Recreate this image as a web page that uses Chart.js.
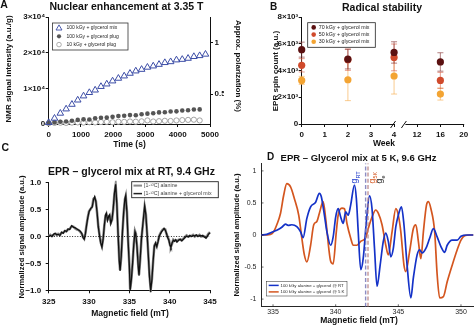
<!DOCTYPE html>
<html><head><meta charset="utf-8">
<script src="https://cdn.jsdelivr.net/npm/chart.js@4.4.1/dist/chart.umd.min.js"></script>
<style>
html,body{margin:0;padding:0;background:#fff;width:474px;height:329px;overflow:hidden;}
canvas{position:absolute;left:0;top:0;}
</style></head><body>
<canvas id="cA" width="474" height="329"></canvas>
<canvas id="cB" width="474" height="329"></canvas>
<canvas id="cC" width="474" height="329"></canvas>
<canvas id="cD" width="474" height="329"></canvas>
<script>
const FONT = "'Liberation Sans', Arial, Helvetica, sans-serif";

// ---------------- Panel A data ----------------
const timeMix = [0,180,360,540,720,900,1080,1260,1440,1620,1800,1980,2160,2340,2520,2700,2880,3060,3240,3420,3600,3780,3960,4140,4320,4500,4680,4860];
const signalMix100 = [400,1600,3000,4200,5500,6700,7850,8800,9500,10500,11200,12050,12800,13450,14200,14850,15300,15900,16250,16700,17200,17450,17950,18100,18400,18900,19150,19550];
const timePlug = [0,180,360,540,720,900,1080,1260,1440,1620,1800,1980,2160,2340,2520,2700,2880,3060,3240,3420,3600,3780,3960,4140,4320,4500,4680];
const signalPlug100 = [250,420,650,700,900,1150,1300,1280,1600,1750,1800,2000,2250,2300,2500,2450,2750,2900,3000,3250,3300,3500,3550,3800,3850,4050,4100];
const signalPlug10 = [200,300,350,300,400,450,400,500,450,550,600,500,650,600,700,650,750,1000,700,800,900,850,1000,1100,1150,1200,1000];
const seriesNamesA = ['100 kGy + glycerol mix','100 kGy + glycerol plug','10 kGy + glycerol plug'];
const timeTicks = [0,1000,2000,3000,4000,5000];
const signalTicks = [0,10000,20000,30000];
const signalTickLabels = ['0','1×10⁴','2×10⁴','3×10⁴'];
const polTicks = [0.5,1];
const polTickLabels = ['0.5','1'];

// ---------------- Panel B data ----------------
const weeks = [0,2,4,16];
const spin70 = [5560,4850,5350,4640];
const err70 = [560,730,800,690];
const spin50 = [4390,4810,4980,3260];
const err50 = [500,800,1000,600];
const spin30 = [3260,3310,3590,2240];
const err30 = [300,1560,1350,450];
const seriesNamesB = ['70 kGy + glycerol mix','50 kGy + glycerol mix','30 kGy + glycerol mix'];
const weekTicks = [0,1,2,3,4,12,16,20];
const spinTicks = [0,2000,4000,6000,8000];
const spinTickLabels = ['0','2×10³','4×10³','6×10³','8×10³'];

// ---------------- Panel C data ----------------
const fieldC = [325.0,325.2,325.4,325.6,325.8,326.0,326.2,326.4,326.6,326.8,
327.0,327.2,327.4,327.6,327.85,328.1,328.3,328.5,328.7,328.9,
329.1,329.25,329.4,329.55,329.7,329.85,330.0,330.2,330.4,330.55,
330.7,330.85,331.0,331.15,331.3,331.45,331.6,331.75,331.9,332.05,
332.15,332.3,332.45,332.55,332.7,332.85,333.0,333.15,333.3,333.45,
333.6,333.75,333.85,334.0,334.15,334.3,334.45,334.55,334.7,334.85,
335.0,335.1,335.25,335.4,335.55,335.7,335.8,335.95,336.1,336.2,
336.35,336.5,336.7,336.9,337.05,337.2,337.35,337.5,337.65,337.8,
337.95,338.1,338.25,338.4,338.55,338.7,338.85,339.0,339.15,339.3,
339.45,339.6,339.75,339.9,340.05,340.15,340.3,340.45,340.6,340.75,
340.9,341.1,341.3,341.5,341.7,341.9,342.1,342.3,342.5,342.7,
342.9,343.1,343.3,343.5,343.7,343.9,344.1,344.3,344.5,344.65,
344.8,345.0];
const ampGlycerolMix = [0.00,0.02,0.00,0.04,0.06,0.03,0.04,0.02,0.08,0.06,
0.11,0.09,0.14,0.13,0.20,0.17,0.16,0.14,0.12,0.10,
0.06,-0.02,-0.05,0.05,0.21,0.35,0.46,0.52,0.55,0.68,
0.74,0.65,0.45,0.18,0.02,-0.12,-0.20,-0.05,0.21,0.40,
0.43,0.30,0.38,0.40,0.24,0.32,0.52,0.80,0.97,0.60,
0.05,-0.45,-0.64,-0.35,0.10,0.46,0.70,0.76,0.45,-0.10,
-0.55,-1.00,-0.80,-0.50,-0.15,0.09,0.05,-0.20,-0.55,-0.73,
-0.40,-0.04,0.27,0.57,0.40,0.05,-0.35,-0.75,-1.00,-0.80,
-0.45,-0.18,-0.12,-0.19,-0.10,0.00,0.05,0.09,0.12,0.15,
0.12,0.06,-0.02,-0.07,-0.17,-0.20,-0.12,-0.07,-0.09,-0.06,
-0.10,-0.07,-0.05,-0.08,-0.05,-0.02,0.01,-0.01,0.02,0.00,
0.02,0.01,0.03,0.00,0.02,0.01,0.02,-0.01,-0.03,0.00,
0.04,0.07];
const ampAlanine = [0.01,0.03,0.01,0.03,0.05,0.04,0.05,0.03,0.07,0.07,
0.10,0.10,0.13,0.14,0.19,0.18,0.15,0.13,0.12,0.09,
0.05,-0.01,-0.04,0.06,0.22,0.36,0.47,0.51,0.56,0.70,
0.72,0.66,0.44,0.19,0.03,-0.11,-0.18,-0.04,0.20,0.39,
0.42,0.32,0.37,0.39,0.26,0.31,0.50,0.79,0.95,0.62,
0.07,-0.43,-0.62,-0.36,0.09,0.44,0.69,0.75,0.47,-0.08,
-0.53,-0.98,-0.79,-0.51,-0.14,0.10,0.06,-0.18,-0.53,-0.71,
-0.41,-0.05,0.26,0.55,0.41,0.06,-0.33,-0.73,-0.98,-0.79,
-0.46,-0.17,-0.13,-0.18,-0.09,0.01,0.06,0.10,0.13,0.14,
0.13,0.05,-0.01,-0.06,-0.16,-0.19,-0.13,-0.06,-0.08,-0.07,
-0.09,-0.06,-0.06,-0.07,-0.04,-0.01,0.02,0.00,0.01,0.01,
0.03,0.00,0.02,0.01,0.03,0.00,0.01,0.00,-0.02,0.01,
0.05,0.08];
const seriesNamesC = ['[1-¹³C] alanine','[1-¹³C] alanine + glycerol mix'];
const fieldTicksC = [325,330,335,340,345];
const ampTicksC = [-1,-0.5,0,0.5,1];
const ampTickLabelsC = ['−1.0','−0.5','0.0','0.5','1.0'];

// ---------------- Panel D data ----------------
const fieldRT = [334.04,334.5,335.0,335.45,335.7,336.0,336.2,336.5,336.9,337.2,337.4,337.7,338.0,338.4,338.7,338.85,339.1,339.3,339.6,339.8,340.0,340.2,340.4,340.6,340.8,341.0,341.2,341.5,341.65,341.8,342.0,342.2,342.45,342.7,342.9,343.1,343.3,343.55,343.8,344.0,344.2,344.4,344.6,344.8,345.0,345.25,345.45,345.7,346.0,346.2,346.5,346.7,346.9,347.2,347.5,347.8,348.1,348.4,348.7,348.9,349.3,349.7,350.0,350.5,351.0];
const ampRT = [0,0.01,0.05,0.09,0.12,0.17,0.15,0.16,0.13,0.05,-0.04,0.26,0.44,0.51,0.65,0.60,0.31,0.05,-0.16,-0.03,0.28,0.41,0.28,0.18,0.36,0.31,0.47,0.78,0.57,0.05,-0.54,-0.36,0.21,0.61,0.41,-0.21,-0.80,-0.47,-0.10,0.03,-0.10,-0.34,-0.21,0.13,0.31,0.44,0.16,-0.47,-0.98,-0.67,-0.31,-0.23,-0.28,-0.21,-0.05,0.10,-0.03,-0.18,-0.27,-0.16,-0.08,-0.08,-0.02,0,0];
const field5K = [334.04,334.8,335.05,335.3,335.6,335.85,336.1,336.4,336.7,337.05,337.3,337.5,337.7,338.0,338.25,338.5,338.7,339.0,339.2,339.45,339.6,339.8,340.05,340.2,340.5,340.7,340.9,341.2,341.4,341.7,342.0,342.4,342.6,342.9,343.2,343.4,343.7,344.0,344.2,344.5,344.8,345.0,345.2,345.45,345.6,345.9,346.2,346.4,346.6,346.8,347.0,347.25,347.4,347.6,347.9,348.1,348.3,348.6,348.9,349.3,349.7,350.0,350.3,350.7,351.0];
const amp5K = [0,0.01,0.05,0.16,0.34,0.62,0.80,0.75,0.57,0.31,-0.05,-0.31,-0.42,-0.16,0.16,0.21,0.34,0.52,0.26,-0.21,-0.41,-0.45,0.05,0.31,0.42,0.41,0.18,-0.05,-0.16,-0.16,-0.10,-0.04,0.10,0.28,0.39,0.34,0.16,-0.16,-0.31,0.05,0.41,0.31,0.05,-0.47,-0.57,-0.26,0.10,0.16,-0.10,-0.37,0.05,0.47,0.52,0.41,0.05,-0.62,-0.98,-0.96,-0.73,-0.47,-0.23,-0.08,-0.01,0,0];
const seriesNamesD = ['100 kGy alanine + glycerol @ RT','100 kGy alanine + glycerol @ 5 K'];
const gFactorFields = [342.39, 342.58];
const fieldTicksD = [335,340,345,350];
const ampTicksD = [-1,-0.5,0,0.5,1];
const ampTickLabelsD = ['-1','-0.5','0','0.5','1'];

// ---------------- helpers ----------------
function pts(xs, ys){ return xs.map((x,i)=>({x:x, y:ys[i]})); }
function setTicks(vals){ return s => { s.ticks = vals.map(v => ({value:v})); }; }
function fixW(w){ return s => { s.width = w; }; }
function fixH(h){ return s => { s.height = h; }; }
function axis(o){
  return {
    type:'linear', position:o.position, min:o.min, max:o.max,
    afterBuildTicks:setTicks(o.ticks),
    afterFit:(o.w!=null)?fixW(o.w):fixH(o.h),
    grid:{display:o.tl>0, drawOnChartArea:false, drawTicks:true, tickLength:o.tl||0, color:o.color||'#111', lineWidth:1},
    border:{display:o.border!==false, color:o.color||'#111', width:1},
    ticks:{autoSkip:false, maxRotation:0, minRotation:0, padding:o.pad, color:o.tcolor||'#111',
      font:{family:FONT, size:o.size, weight:o.weight||'bold'},
      callback:(v,i)=>o.labels[i]}
  };
}
function txt(ctx, s, x, y, o){
  o = o||{};
  ctx.save(); ctx.translate(x,y); if(o.rot) ctx.rotate(o.rot);
  ctx.font = (o.weight||'bold')+' '+(o.size||8)+'px '+FONT;
  ctx.fillStyle = o.color||'#111'; ctx.textAlign = o.align||'center'; ctx.textBaseline = o.baseline||'middle';
  ctx.fillText(s,0,0); ctx.restore();
}
function tri(ctx,x,y,r,stroke,lw){
  ctx.beginPath();
  for(let k=0;k<3;k++){const a=k*2*Math.PI/3; const px=x+Math.sin(a)*r, py=y-Math.cos(a)*r; if(k) ctx.lineTo(px,py); else ctx.moveTo(px,py);}
  ctx.closePath(); ctx.strokeStyle=stroke; ctx.lineWidth=lw; ctx.stroke();
}
function dot(ctx,x,y,r,fill,stroke,lw){
  ctx.beginPath(); ctx.arc(x,y,r,0,2*Math.PI);
  if(fill){ctx.fillStyle=fill; ctx.fill();}
  if(stroke){ctx.strokeStyle=stroke; ctx.lineWidth=lw; ctx.stroke();}
}
function seg(ctx,x1,y1,x2,y2){ ctx.beginPath(); ctx.moveTo(x1,y1); ctx.lineTo(x2,y2); ctx.stroke(); }
const base = {responsive:false, animation:false, events:[], devicePixelRatio:1};
const noPlug = {legend:{display:false}, tooltip:{enabled:false}, title:{display:false}};

// ---------------- Panel A ----------------
const colMix = '#3b4ca6', colPlug100 = '#555555', colPlug10 = '#9a9a9a';
new Chart(document.getElementById('cA'), {
  type:'scatter',
  data:{datasets:[
    {label:seriesNamesA[0], data:pts(timeMix, signalMix100), pointStyle:'triangle', pointRadius:3.8, borderColor:colMix, backgroundColor:'rgba(0,0,0,0)', borderWidth:1, clip:false},
    {label:seriesNamesA[1], data:pts(timePlug, signalPlug100), pointStyle:'circle', pointRadius:2.3, borderColor:colPlug100, backgroundColor:colPlug100, borderWidth:0, clip:false},
    {label:seriesNamesA[2], data:pts(timePlug, signalPlug10), pointStyle:'circle', pointRadius:2.6, borderColor:colPlug10, backgroundColor:'#fff', borderWidth:0.9, clip:false}
  ]},
  options:Object.assign({}, base, {
    layout:{padding:{left:18.7, right:250, top:17, bottom:185}},
    plugins:noPlug,
    scales:{
      x:axis({position:'bottom', min:0, max:5000, ticks:timeTicks, labels:timeTicks.map(String), h:20, tl:3, pad:3, size:8}),
      y:axis({position:'left', min:0, max:30000, ticks:signalTicks, labels:signalTickLabels, w:30, tl:3, pad:0.5, size:8}),
      y2:axis({position:'right', min:0.208, max:1.25, ticks:polTicks, labels:polTickLabels, w:14, tl:3, pad:1.5, size:8})
    }
  }),
  plugins:[{id:'txtA', afterDraw(chart){
    const ctx = chart.ctx;
    txt(ctx,'A',0.3,7.6,{size:10.5,align:'left',baseline:'alphabetic'});
    txt(ctx,'Nuclear enhancement at 3.35 T',126.5,10.4,{size:10.5,baseline:'alphabetic'});
    txt(ctx,'NMR signal intensity (a.u./g)',9,69,{size:8,rot:-Math.PI/2});
    txt(ctx,'Time (s)',129.5,144.5,{size:8.5});
    txt(ctx,'Approx. polarization (%)',238.5,66,{size:8,rot:Math.PI/2});
    ctx.save();
    ctx.fillStyle='#fff'; ctx.fillRect(52.5,23,75.5,27);
    ctx.strokeStyle='#333'; ctx.lineWidth=0.8; ctx.strokeRect(52.5,23,75.5,27);
    const ys=[27.8,36.3,44.6]; const ds=chart.data.datasets;
    tri(ctx,59,ys[0]+0.5,3.4,colMix,0.9);
    dot(ctx,59,ys[1],2.1,colPlug100);
    dot(ctx,59,ys[2],2.3,'#fff',colPlug10,0.8);
    ds.forEach((d,i)=>txt(ctx,d.label,66.5,ys[i],{size:5,weight:'normal',align:'left',color:'#222'}));
    ctx.restore();
  }}]
});

// ---------------- Panel B ----------------
function weekPos(w){ return w<=4 ? w : 4.49 + (w-10)*0.2525; }
const col70='#5b1111', col50='#d04a2c', col30='#f3a433';
const errCol70='rgba(140,60,60,0.6)', errCol50='rgba(214,90,64,0.55)', errCol30='rgba(245,170,70,0.55)';
new Chart(document.getElementById('cB'), {
  type:'scatter',
  data:{datasets:[
    {label:seriesNamesB[0], data:pts(weeks.map(weekPos), spin70), errors:err70, errColor:errCol70, pointRadius:3.6, backgroundColor:col70, borderWidth:0, clip:false},
    {label:seriesNamesB[1], data:pts(weeks.map(weekPos), spin50), errors:err50, errColor:errCol50, pointRadius:3.6, backgroundColor:col50, borderWidth:0, clip:false},
    {label:seriesNamesB[2], data:pts(weeks.map(weekPos), spin30), errors:err30, errColor:errCol30, pointRadius:3.6, backgroundColor:col30, borderWidth:0, clip:false}
  ]},
  options:Object.assign({}, base, {
    layout:{padding:{left:271.7, right:10.3, top:17, bottom:185}},
    plugins:noPlug,
    scales:{
      x:axis({position:'bottom', min:0, max:weekPos(20), ticks:weekTicks.map(weekPos), labels:weekTicks.map(String), h:20, tl:3, pad:3, size:8, border:false}),
      y:axis({position:'left', min:0, max:8000, ticks:spinTicks, labels:spinTickLabels, w:30, tl:3, pad:0.5, size:8})
    }
  }),
  plugins:[{id:'errB', beforeDatasetsDraw(chart){
    const ctx=chart.ctx, xs=chart.scales.x, ys=chart.scales.y;
    ctx.save(); ctx.lineWidth=1.1;
    for(let di=chart.data.datasets.length-1; di>=0; di--){
      const d=chart.data.datasets[di]; ctx.strokeStyle=d.errColor;
      d.data.forEach((p,i)=>{
        const px=xs.getPixelForValue(p.x), y1=ys.getPixelForValue(p.y+d.errors[i]), y2=ys.getPixelForValue(p.y-d.errors[i]);
        seg(ctx,px,y1,px,y2); seg(ctx,px-3,y1,px+3,y1); seg(ctx,px-3,y2,px+3,y2);
      });
    }
    // broken x axis
    const yb=chart.chartArea.bottom+0.5;
    ctx.strokeStyle='#111'; ctx.lineWidth=1;
    seg(ctx,xs.getPixelForValue(0)-0.5,yb,xs.getPixelForValue(4),yb);
    seg(ctx,xs.getPixelForValue(weekPos(10)),yb,xs.getPixelForValue(weekPos(20))+0.5,yb);
    [xs.getPixelForValue(4)-1, xs.getPixelForValue(weekPos(10))-1.5].forEach(x=>seg(ctx,x-2.5,yb+3.5,x+2.5,yb-3.5));
    ctx.restore();
  }, afterDraw(chart){
    const ctx=chart.ctx;
    txt(ctx,'B',270,10,{size:10,align:'left',baseline:'alphabetic'});
    txt(ctx,'Radical stability',382,10.5,{size:10.5,baseline:'alphabetic'});
    txt(ctx,'EPR spin count (a.u.)',276,71,{size:8,rot:-Math.PI/2});
    txt(ctx,'Week',384,143.5,{size:8.5});
    ctx.save();
    ctx.fillStyle='#fff'; ctx.fillRect(307.7,22.7,67.6,24.6);
    ctx.strokeStyle='#222'; ctx.lineWidth=0.8; ctx.strokeRect(307.7,22.7,67.6,24.6);
    const ys=[27.4,34.6,41.8], cols=[col70,col50,col30];
    chart.data.datasets.forEach((d,i)=>{ dot(ctx,313.7,ys[i],2.3,cols[i]); txt(ctx,d.label,318.7,ys[i],{size:5.3,weight:'normal',align:'left',color:'#222'}); });
    ctx.restore();
  }}]
});

// ---------------- Panel C ----------------
new Chart(document.getElementById('cC'), {
  type:'scatter',
  data:{datasets:[
    {label:'zero', data:pts([325,345],[0,0]), showLine:true, borderColor:'#111', borderWidth:0.9, borderDash:[1,1.6], pointRadius:0},
    {label:seriesNamesC[1], data:pts(fieldC, ampGlycerolMix), showLine:true, borderColor:'#111', borderWidth:1.3, pointRadius:0, tension:0, clip:2},
    {label:seriesNamesC[0], data:pts(fieldC, ampAlanine), showLine:true, borderColor:'#8a8a8a', borderWidth:2.6, pointRadius:0, tension:0, clip:2}
  ]},
  options:Object.assign({}, base, {
    layout:{padding:{left:18.7, right:264, top:182.7, bottom:18.7}},
    plugins:noPlug,
    scales:{
      x:axis({position:'bottom', min:325, max:345, ticks:fieldTicksC, labels:fieldTicksC.map(String), h:20, tl:3, pad:4, size:8}),
      y:axis({position:'left', min:-1, max:1, ticks:ampTicksC, labels:ampTickLabelsC, w:30, tl:3, pad:4.5, size:8})
    }
  }),
  plugins:[{id:'txtC', afterDraw(chart){
    const ctx=chart.ctx;
    txt(ctx,'C',1.5,151,{size:10.5,align:'left',baseline:'alphabetic'});
    txt(ctx,'EPR – glycerol mix at RT, 9.4 GHz',131.5,175.3,{size:10.5,baseline:'alphabetic'});
    txt(ctx,'Normalized signal amplitude (a.u.)',22,237,{size:7.6,rot:-Math.PI/2});
    txt(ctx,'Magnetic field (mT)',130,314,{size:8.5});
    ctx.save();
    ctx.fillStyle='#fff'; ctx.fillRect(131.7,181.7,86.6,16);
    ctx.strokeStyle='#222'; ctx.lineWidth=0.9; ctx.strokeRect(131.7,181.7,86.6,16);
    ctx.strokeStyle='#8a8a8a'; ctx.lineWidth=2; seg(ctx,133.5,185.6,142,185.6);
    ctx.strokeStyle='#222'; ctx.lineWidth=1.5; seg(ctx,133.5,193.6,142,193.6);
    txt(ctx,seriesNamesC[0],144,185.6,{size:5.3,weight:'normal',align:'left',color:'#444'});
    txt(ctx,seriesNamesC[1],144,193.6,{size:5.3,weight:'normal',align:'left',color:'#444'});
    ctx.restore();
  }}]
});

// ---------------- Panel D ----------------
const colRT='#1432c8', col5K='#d4561f', axD='#262626';
new Chart(document.getElementById('cD'), {
  type:'scatter',
  data:{datasets:[
    {label:'g RT', data:pts([gFactorFields[0],gFactorFields[0]],[-1.12,1.12]), showLine:true, borderColor:'rgba(120,120,185,0.85)', borderWidth:1.4, borderDash:[4,2.2], pointRadius:0},
    {label:'g 5K', data:pts([gFactorFields[1],gFactorFields[1]],[-1.12,1.12]), showLine:true, borderColor:'rgba(185,130,130,0.85)', borderWidth:1.4, borderDash:[4,2.2], pointRadius:0},
    {label:seriesNamesD[0], data:pts(fieldRT, ampRT), showLine:true, borderColor:colRT, borderWidth:1.7, pointRadius:0, cubicInterpolationMode:'monotone'},
    {label:seriesNamesD[1], data:pts(field5K, amp5K), showLine:true, borderColor:col5K, borderWidth:1.7, pointRadius:0, cubicInterpolationMode:'monotone'}
  ]},
  options:Object.assign({}, base, {
    layout:{padding:{left:237, right:0.5, top:163.2, bottom:10.2}},
    plugins:noPlug,
    scales:{
      x:axis({position:'bottom', min:334.04, max:351, ticks:fieldTicksD, labels:fieldTicksD.map(String), h:12, tl:0, pad:1, size:7, weight:'normal', color:axD, tcolor:axD}),
      y:axis({position:'left', min:-1.12, max:1.12, ticks:ampTicksD, labels:ampTickLabelsD, w:24, tl:0, pad:4.5, size:7, weight:'normal', color:axD, tcolor:axD})
    }
  }),
  plugins:[{id:'txtD', afterDraw(chart){
    const ctx=chart.ctx, xs=chart.scales.x, ys=chart.scales.y, ca=chart.chartArea;
    ctx.save(); ctx.strokeStyle=axD; ctx.lineWidth=0.7;
    xs.ticks.forEach(t=>{const p=xs.getPixelForValue(t.value); seg(ctx,p,ca.bottom,p,ca.bottom-2.5);});
    ys.ticks.forEach(t=>{const p=ys.getPixelForValue(t.value); seg(ctx,ca.left,p,ca.left+2.5,p);});
    ctx.restore();
    txt(ctx,'D',267,160,{size:10,align:'left',baseline:'alphabetic'});
    txt(ctx,'EPR – Glycerol mix at 5 K, 9.6 GHz',358.5,160.5,{size:9.5,baseline:'alphabetic'});
    txt(ctx,'Normalized signal amplitude (a.u.)',236.5,235,{size:7.6,rot:-Math.PI/2});
    txt(ctx,'Magnetic field (mT)',359,321,{size:8.5});
    // g labels
    const l1=xs.getPixelForValue(gFactorFields[0]), l2=xs.getPixelForValue(gFactorFields[1]);
    function gLab(x,y,sub,color){
      ctx.save(); ctx.translate(x,y); ctx.rotate(-Math.PI/2); ctx.fillStyle=color;
      ctx.textAlign='left'; ctx.textBaseline='alphabetic';
      ctx.font='8.5px '+FONT; ctx.fillText('g',0,0); const w=ctx.measureText('g').width;
      ctx.font='5.5px '+FONT; ctx.fillText(sub,w+0.2,2.6); ctx.restore();
    }
    gLab(l1-8.7,183.5,'RT',colRT);
    gLab(l2+6.5,183.5,'5K',col5K);
    gLab(l2+14,183.5,'e','#111');
    // legend
    ctx.save();
    ctx.fillStyle='#fff'; ctx.fillRect(266.3,281.7,80.7,14.3);
    ctx.strokeStyle=axD; ctx.lineWidth=0.5; ctx.strokeRect(266.3,281.7,80.7,14.3);
    ctx.lineWidth=1.5;
    ctx.strokeStyle=colRT; seg(ctx,268.7,285.4,278.7,285.4);
    ctx.strokeStyle=col5K; seg(ctx,268.7,291.9,278.7,291.9);
    txt(ctx,seriesNamesD[0],280.5,285.4,{size:4.3,weight:'normal',align:'left',color:axD});
    txt(ctx,seriesNamesD[1],280.5,291.9,{size:4.3,weight:'normal',align:'left',color:axD});
    ctx.restore();
  }}]
});
</script>
</body></html>
